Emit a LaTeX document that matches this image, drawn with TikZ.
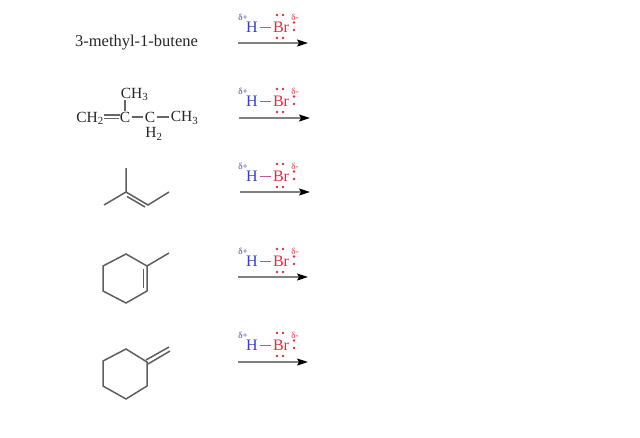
\documentclass[tikz,border=0pt]{standalone}
\usepackage{fontspec}
\setmainfont{Liberation Serif}
\usetikzlibrary{arrows.meta,calc}
\definecolor{hblue}{RGB}{60,60,205}
\definecolor{brred}{RGB}{225,45,60}
\definecolor{bond}{RGB}{95,95,95}
\tikzset{
  x=1pt,y=-1pt,
  namelab/.style={inner sep=0pt,font=\fontsize{16.5}{16.5}\selectfont,text=black!85},
  lab/.style={inner sep=0pt,font=\fontsize{15.5}{15.5}\selectfont,text=black!85},
  hatom/.style={inner sep=0pt,font=\fontsize{16}{16}\selectfont,text=hblue},
  bratom/.style={inner sep=0pt,font=\fontsize{16}{16}\selectfont,text=brred},
  dplus/.style={inner sep=0pt,font=\fontsize{9}{9}\selectfont,text=hblue},
  dminus/.style={inner sep=0pt,font=\fontsize{9}{9}\selectfont,text=brred},
  bondline/.style={draw=bond,line width=1.5pt},
  hbond/.style={draw=black!60,line width=1.1pt,shorten >=1.5pt,shorten <=1.5pt},
  lone/.style={circle,fill=brred,inner sep=0pt,minimum size=2.8pt},
  rxn/.style={draw=black!50,line width=1.4pt,-{Stealth[length=11pt,width=7pt,inset=2pt,color=black]}},
}
\newcommand{\hbrgroup}[2]{%
  \begin{scope}[yshift=-#2pt]
    \node[hatom] (h#1) at (252,27.5) {H};
    \node[bratom] (br#1) at (281,27.5) {Br};
    \draw[draw=brred!60!hblue!80,line width=1.1pt] ($(h#1.east)+(2,0)$) -- ($(br#1.west)+(-2,0)$);
    \node[dplus] (dp#1) at (243,17) {δ+};
    \node[dminus] (dm#1) at (295,17) {δ-};
    \node[lone] (a#1) at (277,15) {};
    \node[lone] (b#1) at (283,15) {};
    \node[lone] (c#1) at (277,38) {};
    \node[lone] (d#1) at (283,38) {};
    \node[lone] (e#1) at (294,22.5) {};
    \node[lone] (f#1) at (294,30) {};
  \end{scope}}
\begin{document}
\begin{tikzpicture}
\useasboundingbox (0,0) rectangle (640,437);
\fill[white] (0,0) rectangle (640,437);
\node[namelab] (name) at (136.5,42.5) {3-methyl-1-butene};

\hbrgroup{1}{0}
\hbrgroup{2}{74}
\hbrgroup{3}{149}
\hbrgroup{4}{234}
\hbrgroup{5}{318}
\coordinate (s1) at (238,43); \coordinate (t1) at (308,43);
\coordinate (s2) at (239,118); \coordinate (t2) at (310,118);
\coordinate (s3) at (240,192); \coordinate (t3) at (310,192);
\coordinate (s4) at (238,277); \coordinate (t4) at (308,277);
\coordinate (s5) at (238,362); \coordinate (t5) at (308,362);
\foreach \i in {1,...,5} \draw[rxn] (s\i) -- (t\i);

% condensed formula
\node[lab] (ch3top) at (134.5,94.5) {CH\textsubscript{3}};
\node[lab] (ch2) at (90,118) {CH\textsubscript{2}};
\node[lab] (c1) at (125,117.5) {C};
\node[lab] (c2) at (150,117.5) {C};
\node[lab] (ch3r) at (184.5,118) {CH\textsubscript{3}};
\node[lab] (h2) at (154,134) {H\textsubscript{2}};
\draw[hbond,shorten <=0pt] (125,100) -- (c1.north);
\draw[hbond,shorten >=0.5pt,shorten <=0.5pt] (ch2.east |- 0,115) -- (c1.west |- 0,115) (ch2.east |- 0,118.5) -- (c1.west |- 0,118.5);
\draw[hbond] (c1.east |- 0,117) -- (c2.west |- 0,117);
\draw[hbond] (c2.east |- 0,117) -- (ch3r.west |- 0,117);

% 2-methyl-2-butene
\coordinate (m1) at (126,168); \coordinate (m2) at (126,192);
\coordinate (m3) at (104,205); \coordinate (m4) at (148,205);
\coordinate (m5) at (169,192);
\draw[bondline] (m1) -- (m2) (m3) -- (m2) -- (m4) -- (m5);
\draw[bondline] (127,196.5) -- (145,207);

% 1-methylcyclohexene
\coordinate (p1) at (147,266); \coordinate (p2) at (126,254);
\coordinate (p3) at (103,266); \coordinate (p4) at (103,291);
\coordinate (p5) at (126,303); \coordinate (p6) at (147,291);
\coordinate (p7) at (169,253);
\draw[bondline] (p7) -- (p1) -- (p2) -- (p3) -- (p4) -- (p5) -- (p6) -- (p1);
\draw[bondline] (143.5,269) -- (143.5,288);

% methylenecyclohexane
\coordinate (q1) at (147,362); \coordinate (q2) at (126,349);
\coordinate (q3) at (103,361); \coordinate (q4) at (103,386);
\coordinate (q5) at (126,399); \coordinate (q6) at (147,386);
\draw[bondline] (q1) -- (q2) -- (q3) -- (q4) -- (q5) -- (q6) -- cycle;
\draw[bondline] (146,360) -- (169,347) (148,364) -- (170,351);
\end{tikzpicture}
\end{document}
